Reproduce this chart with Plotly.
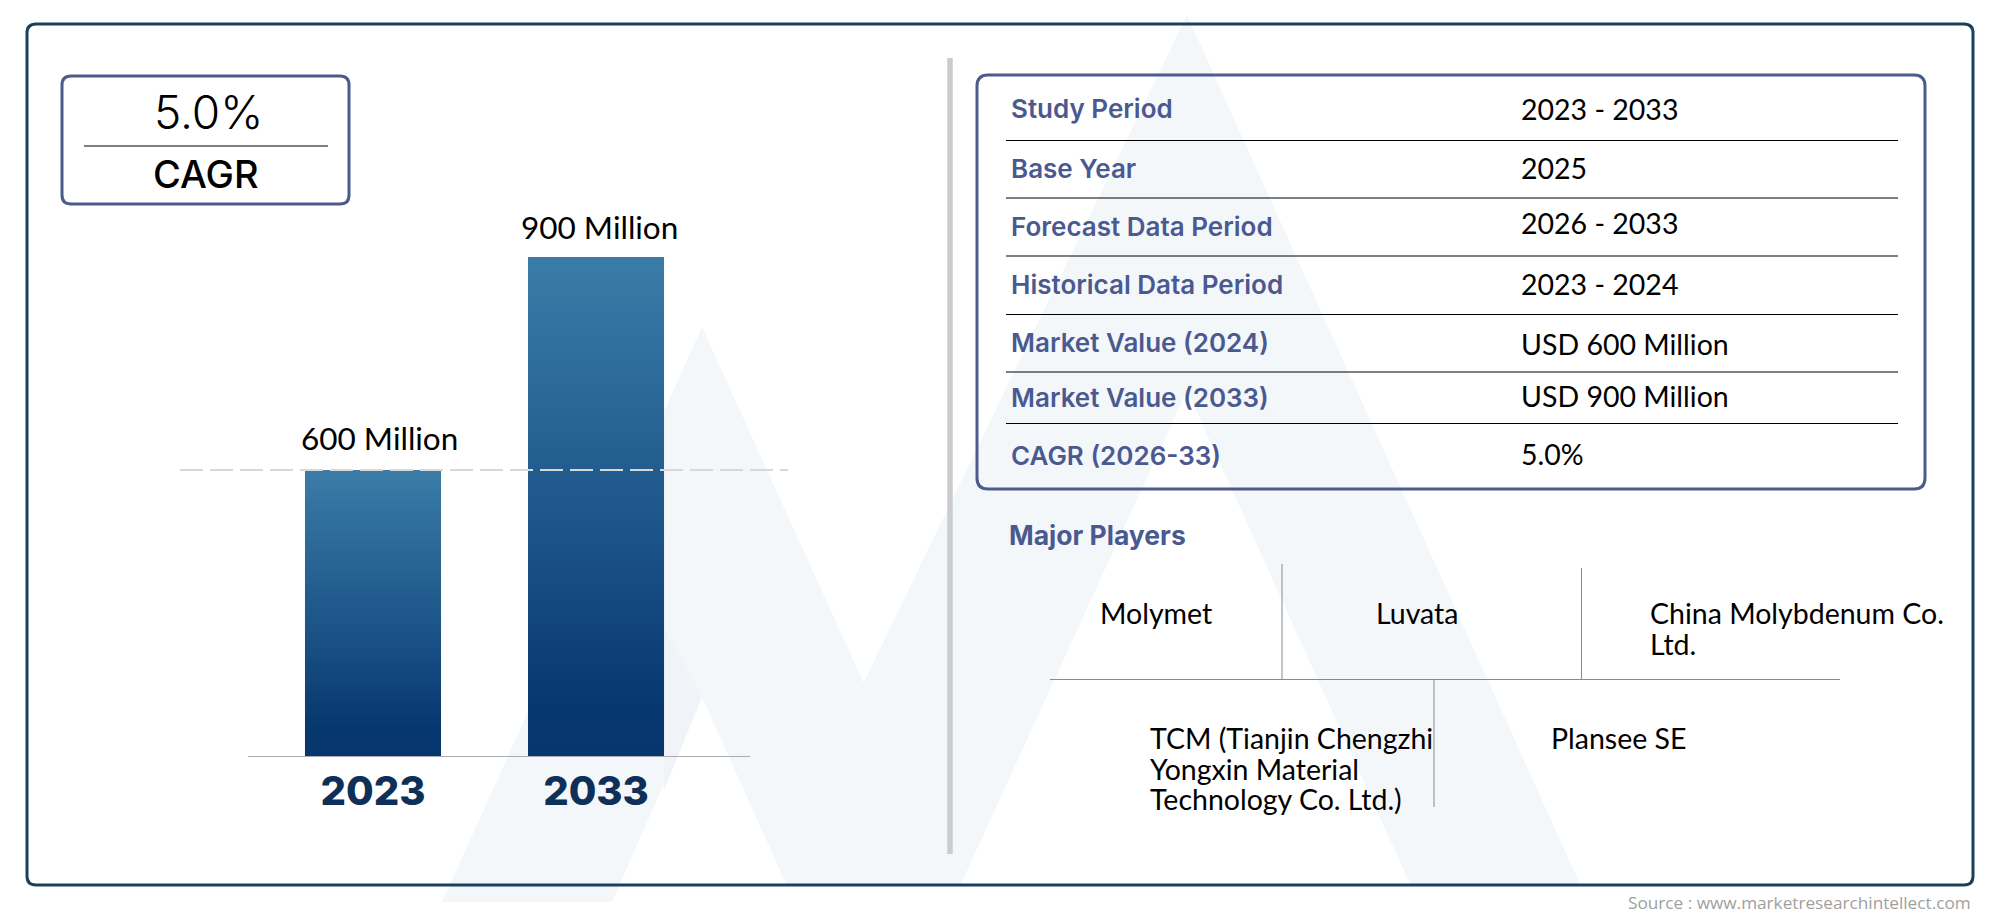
import plotly.graph_objects as go

# chart values
years = ["2023", "2033"]
market_values = [600, 900]
value_unit = "Million"

table_labels = ["Study Period", "Base Year", "Forecast Data Period", "Historical Data Period",
                "Market Value (2024)", "Market Value (2033)", "CAGR (2026-33)"]
table_values = ["2023 - 2033", "2025", "2026 - 2033", "2023 - 2024",
                "USD 600 Million", "USD 900 Million", "5.0%"]
player_lines = ["Molymet", "Luvata", "China Molybdenum Co.", "Ltd.",
                "TCM (Tianjin Chengzhi", "Yongxin Material", "Technology Co. Ltd.)", "Plansee SE"]

W, H = 2000, 917
NAVY = "#18405f"
BOX = "#4b5b8d"
LABEL = "#4a5a90"
WATERMARK = "#f4f7fa"
BODY_FONT = "Lato"
HEAD_FONT = "Inter"


# everything outside the bar plot is placed in page pixels
def fx(x):
    return x / W


def fy(y):
    return 1 - y / H


def round_rect(x0, y0, x1, y1, r):
    return (f"M{fx(x0 + r)},{fy(y0)} L{fx(x1 - r)},{fy(y0)} Q{fx(x1)},{fy(y0)} {fx(x1)},{fy(y0 + r)} "
            f"L{fx(x1)},{fy(y1 - r)} Q{fx(x1)},{fy(y1)} {fx(x1 - r)},{fy(y1)} "
            f"L{fx(x0 + r)},{fy(y1)} Q{fx(x0)},{fy(y1)} {fx(x0)},{fy(y1 - r)} "
            f"L{fx(x0)},{fy(y0 + r)} Q{fx(x0)},{fy(y0)} {fx(x0 + r)},{fy(y0)} Z")


def poly(points):
    return "M" + " L".join(f"{fx(x)},{fy(y)}" for x, y in points) + " Z"


def line(x0, y0, x1, y1, color, width=1):
    return dict(type="line", xref="paper", yref="paper", x0=fx(x0), y0=fy(y0), x1=fx(x1), y1=fy(y1),
                line=dict(color=color, width=width), layer="below")


def label(x, y, text, size, color="#000000", family=BODY_FONT, weight=400, anchor="left"):
    return dict(xref="paper", yref="paper", x=fx(x), y=fy(y), text=text, showarrow=False,
                xanchor=anchor, yanchor="middle", borderpad=0,
                font=dict(family=family, size=size, color=color, weight=weight))


fig = go.Figure()
fig.add_trace(go.Bar(x=years, y=market_values, width=0.61, marker=dict(color="#1f5a8c", line=dict(width=0)),
                     hovertemplate="%{x}: %{y} " + value_unit + "<extra></extra>"))

shapes = []

# watermark behind everything
shapes.append(dict(type="path", xref="paper", yref="paper", layer="below", line=dict(width=0), fillcolor=WATERMARK,
                   path=poly([(1187, 15), (1580, 884), (1410, 884), (1187, 390), (961, 884), (930, 884), (860, 690)])))
shapes.append(dict(type="path", xref="paper", yref="paper", layer="below", line=dict(width=0), fillcolor=WATERMARK,
                   path=poly([(702, 327), (955, 884), (786, 884), (702, 697), (612, 902), (442, 902)])))
shapes.append(dict(type="path", xref="paper", yref="paper", layer="below", line=dict(width=0), fillcolor="#f0f3f8",
                   path=poly([(664, 627), (702, 697), (664, 790)])))

# frames
shapes.append(dict(type="path", xref="paper", yref="paper", layer="below", line=dict(color=NAVY, width=3),
                   path=round_rect(27, 24, 1973, 885, 9)))
shapes.append(dict(type="path", xref="paper", yref="paper", layer="below", line=dict(color=BOX, width=3),
                   path=round_rect(62, 76, 349, 204, 9)))
shapes.append(dict(type="path", xref="paper", yref="paper", layer="below", line=dict(color=BOX, width=3),
                   path=round_rect(977, 75, 1925, 489, 11)))
shapes.append(line(84, 146, 328, 146, "#000000"))
shapes.append(line(950, 58, 950, 854, "#cccccc", 5.5))

# table rules
for y in [140.5, 198, 256, 314.5, 372, 423.5]:
    shapes.append(line(1006, y, 1898, y, "#000000"))

# players grid
shapes.append(line(1050, 679.5, 1840, 679.5, "#8a8a8a"))
shapes.append(line(1282, 564, 1282, 679, "#8a8a8a"))
shapes.append(line(1581.5, 568, 1581.5, 679, "#8a8a8a"))
shapes.append(line(1434, 680, 1434, 807, "#8a8a8a"))

# dashed reference line at the 2023 value, runs over the bars
shapes.append(dict(type="line", xref="paper", yref="y", x0=fx(180), x1=fx(788), y0=market_values[0], y1=market_values[0],
                   line=dict(color="#d8d8d8", width=2, dash="23px,7px"), layer="above"))

annotations = []
annotations.append(label(208, 112.5, "5.0%", 46, weight=300, family=HEAD_FONT, anchor="center"))
annotations.append(label(206, 174, "CAGR", 38, weight=500, family=HEAD_FONT, anchor="center"))

# bar value labels, category axis wants the serial number here
label_xshift = [6, 3]
label_yshift = [32, 30]
for i, v in enumerate(market_values):
    annotations.append(dict(x=i, y=v, xref="x", yref="y", text=f"{v} {value_unit}", showarrow=False,
                            xshift=label_xshift[i], yshift=label_yshift[i], yanchor="middle",
                            font=dict(family=BODY_FONT, size=31.5, color="#000000")))

label_y = [108, 168.5, 226.5, 284, 342, 398, 455.5]
value_y = [108.5, 168, 223.5, 284, 343.5, 396, 453.5]
for y, t in zip(label_y, table_labels):
    annotations.append(label(1010, y, t, 26, color=LABEL, family=HEAD_FONT, weight=600))
for y, t in zip(value_y, table_values):
    annotations.append(label(1519.5, y, t, 28.5))

annotations.append(label(1008, 535, "Major Players", 26.5, color=LABEL, family=HEAD_FONT, weight=700))

player_x = [1098.5, 1374.5, 1648.5, 1648.5, 1148.5, 1148.5, 1148.5, 1549.5]
player_y = [613, 613, 613, 643.5, 738, 769, 799, 738]
for x, y, t in zip(player_x, player_y, player_lines):
    annotations.append(label(x, y, t, 28.5))

annotations.append(label(1972, 902, "Source : www.marketresearchintellect.com", 17.2, color="#a0a0a0",
                         family="Open Sans", anchor="right"))

fig.update_layout(
    width=W,
    height=H,
    margin=dict(l=0, r=0, t=0, b=0),
    paper_bgcolor="#ffffff",
    plot_bgcolor="rgba(0,0,0,0)",
    showlegend=False,
    shapes=shapes,
    annotations=annotations,
    xaxis=dict(type="category", domain=[fx(248), fx(750)], range=[-0.5605, 1.6905], showline=True, linecolor="#a9adb3",
               linewidth=1, showgrid=False, zeroline=False, ticks="", ticklen=0,
               tickfont=dict(family=HEAD_FONT, size=40, color="#0e3058", weight=800)),
    yaxis=dict(domain=[fy(756), fy(200)], range=[197.2, 980.3], visible=False, showgrid=False, zeroline=False),
)

# bars fade from steel blue to navy, plotly bars only take a flat colour so swap the fill in the page
post_script = """
document.body.style.margin = '0';
var gd = document.getElementById('{plot_id}');
function paintBars() {
    var svg = gd.querySelector('svg.main-svg');
    var defs = svg.querySelector('defs');
    var bottom = gd._fullLayout.yaxis._length;
    gd.querySelectorAll('.bars .point path').forEach(function (p, i) {
        var id = 'barfade' + i;
        var old = svg.querySelector('#' + id);
        if (old) old.remove();
        var g = document.createElementNS('http://www.w3.org/2000/svg', 'linearGradient');
        g.setAttribute('id', id);
        g.setAttribute('gradientUnits', 'userSpaceOnUse');
        g.setAttribute('x1', 0);
        g.setAttribute('x2', 0);
        g.setAttribute('y1', p.getBBox().y);
        g.setAttribute('y2', bottom);
        [['0', '#3a7ca8'], ['0.55', '#1c5488'], ['0.9', '#07376f'], ['1', '#07366f']].forEach(function (s) {
            var stop = document.createElementNS('http://www.w3.org/2000/svg', 'stop');
            stop.setAttribute('offset', s[0]);
            stop.setAttribute('stop-color', s[1]);
            g.appendChild(stop);
        });
        defs.appendChild(g);
        p.style.fill = 'url(#' + id + ')';
    });
}
paintBars();
gd.on('plotly_afterplot', paintBars);
"""

fig.write_html("out.html", post_script=post_script, config={"displayModeBar": False})
